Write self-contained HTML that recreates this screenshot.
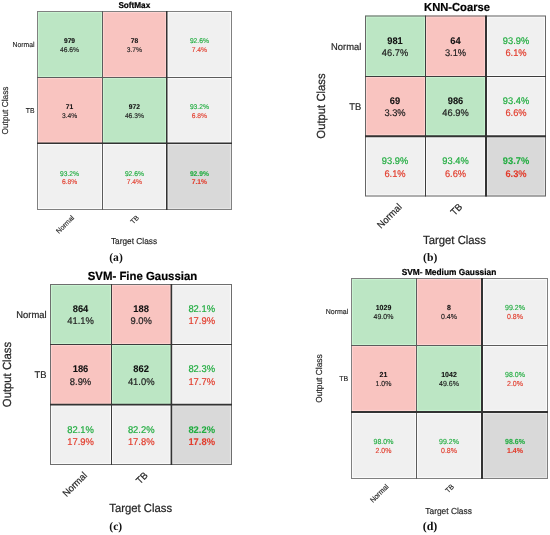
<!DOCTYPE html>
<html lang="en"><head><meta charset="utf-8"><title>Confusion matrices</title>
<style>
html,body{margin:0;padding:0;background:#fff;}
body{width:550px;height:535px;overflow:hidden;}
svg{display:block;text-rendering:geometricPrecision;font-family:"Liberation Sans",sans-serif;}
</style></head><body>
<svg width="550" height="535" viewBox="0 0 550 535">
<rect width="550" height="535" fill="#fff"/>
<g class="panel" id="pa">
<rect x="37" y="11" width="65.00" height="66.00" fill="#bce6c4"/>
<rect x="102" y="11" width="64.75" height="66.00" fill="#f9c4c0"/>
<rect x="166.75" y="11" width="65.25" height="66.00" fill="#f0f0f0"/>
<rect x="37" y="77" width="65.00" height="66.25" fill="#f9c4c0"/>
<rect x="102" y="77" width="64.75" height="66.25" fill="#bce6c4"/>
<rect x="166.75" y="77" width="65.25" height="66.25" fill="#f0f0f0"/>
<rect x="37" y="143.25" width="65.00" height="66.75" fill="#f0f0f0"/>
<rect x="102" y="143.25" width="64.75" height="66.75" fill="#f0f0f0"/>
<rect x="166.75" y="143.25" width="65.25" height="66.75" fill="#d9d9d9"/>
<rect x="38.55" y="12.55" width="62.90" height="63.90" fill="none" stroke="#cbf5d3" stroke-width="1.1" opacity="0.8"/>
<rect x="103.55" y="12.55" width="61.90" height="63.90" fill="none" stroke="#ffd6d2" stroke-width="1.1" opacity="0.8"/>
<rect x="168.05" y="12.55" width="62.40" height="63.90" fill="none" stroke="#fcfcfc" stroke-width="1.1" opacity="0.8"/>
<rect x="38.55" y="78.55" width="62.90" height="63.40" fill="none" stroke="#ffd6d2" stroke-width="1.1" opacity="0.8"/>
<rect x="103.55" y="78.55" width="61.90" height="63.40" fill="none" stroke="#cbf5d3" stroke-width="1.1" opacity="0.8"/>
<rect x="168.05" y="78.55" width="62.40" height="63.40" fill="none" stroke="#fcfcfc" stroke-width="1.1" opacity="0.8"/>
<rect x="38.55" y="144.55" width="62.90" height="63.90" fill="none" stroke="#fcfcfc" stroke-width="1.1" opacity="0.8"/>
<rect x="103.55" y="144.55" width="61.90" height="63.90" fill="none" stroke="#fcfcfc" stroke-width="1.1" opacity="0.8"/>
<rect x="168.05" y="144.55" width="62.40" height="63.90" fill="none" stroke="#e7e7e7" stroke-width="1.1" opacity="0.8"/>
<rect x="37.5" y="11.5" width="194.00" height="198.00" fill="none" stroke="#808080" stroke-width="1"/>
<line x1="102.5" y1="11" x2="102.5" y2="210" stroke="#5c5c5c" stroke-width="1"/>
<line x1="37" y1="77.5" x2="232" y2="77.5" stroke="#5c5c5c" stroke-width="1"/>
<line x1="166.75" y1="11" x2="166.75" y2="210" stroke="#333" stroke-width="1.5"/>
<line x1="37" y1="143.25" x2="232" y2="143.25" stroke="#333" stroke-width="1.5"/>
<text transform="translate(69.50,43.00) scale(1,1.04)" font-size="6.7" fill="#111" text-anchor="middle" font-weight="bold" stroke="#111" stroke-width="0.1">979</text>
<text transform="translate(69.50,51.50) scale(1,1.04)" font-size="6.7" fill="#222" text-anchor="middle" stroke="#222" stroke-width="0.134">46.6%</text>
<text transform="translate(134.38,43.00) scale(1,1.04)" font-size="6.7" fill="#111" text-anchor="middle" font-weight="bold" stroke="#111" stroke-width="0.1">78</text>
<text transform="translate(134.38,51.50) scale(1,1.04)" font-size="6.7" fill="#222" text-anchor="middle" stroke="#222" stroke-width="0.134">3.7%</text>
<text transform="translate(199.38,43.00) scale(1,1.04)" font-size="6.7" fill="#22ad41" text-anchor="middle" stroke="#22ad41" stroke-width="0.134">92.6%</text>
<text transform="translate(199.38,51.50) scale(1,1.04)" font-size="6.7" fill="#e23d2d" text-anchor="middle" stroke="#e23d2d" stroke-width="0.134">7.4%</text>
<text transform="translate(69.50,109.12) scale(1,1.04)" font-size="6.7" fill="#111" text-anchor="middle" font-weight="bold" stroke="#111" stroke-width="0.1">71</text>
<text transform="translate(69.50,117.62) scale(1,1.04)" font-size="6.7" fill="#222" text-anchor="middle" stroke="#222" stroke-width="0.134">3.4%</text>
<text transform="translate(134.38,109.12) scale(1,1.04)" font-size="6.7" fill="#111" text-anchor="middle" font-weight="bold" stroke="#111" stroke-width="0.1">972</text>
<text transform="translate(134.38,117.62) scale(1,1.04)" font-size="6.7" fill="#222" text-anchor="middle" stroke="#222" stroke-width="0.134">46.3%</text>
<text transform="translate(199.38,109.12) scale(1,1.04)" font-size="6.7" fill="#22ad41" text-anchor="middle" stroke="#22ad41" stroke-width="0.134">93.2%</text>
<text transform="translate(199.38,117.62) scale(1,1.04)" font-size="6.7" fill="#e23d2d" text-anchor="middle" stroke="#e23d2d" stroke-width="0.134">6.8%</text>
<text transform="translate(69.50,175.62) scale(1,1.04)" font-size="6.7" fill="#22ad41" text-anchor="middle" stroke="#22ad41" stroke-width="0.134">93.2%</text>
<text transform="translate(69.50,184.12) scale(1,1.04)" font-size="6.7" fill="#e23d2d" text-anchor="middle" stroke="#e23d2d" stroke-width="0.134">6.8%</text>
<text transform="translate(134.38,175.62) scale(1,1.04)" font-size="6.7" fill="#22ad41" text-anchor="middle" stroke="#22ad41" stroke-width="0.134">92.6%</text>
<text transform="translate(134.38,184.12) scale(1,1.04)" font-size="6.7" fill="#e23d2d" text-anchor="middle" stroke="#e23d2d" stroke-width="0.134">7.4%</text>
<text transform="translate(199.38,175.62) scale(1,1.04)" font-size="6.7" fill="#22ad41" text-anchor="middle" font-weight="bold" stroke="#22ad41" stroke-width="0.1">92.9%</text>
<text transform="translate(199.38,184.12) scale(1,1.04)" font-size="6.7" fill="#e23d2d" text-anchor="middle" font-weight="bold" stroke="#e23d2d" stroke-width="0.1">7.1%</text>
<text transform="translate(34.60,46.90) scale(1,1.04)" font-size="6.85" fill="#262626" text-anchor="end" stroke="#262626" stroke-width="0.137">Normal</text>
<text transform="translate(34.60,113.03) scale(1,1.04)" font-size="6.85" fill="#262626" text-anchor="end" stroke="#262626" stroke-width="0.137">TB</text>
<text transform="translate(71.00,214.70) rotate(-45) scale(1,1.04)" font-size="6.85" fill="#262626" text-anchor="end" dy="0.72em" stroke="#262626" stroke-width="0.137">Normal</text>
<text transform="translate(135.88,214.70) rotate(-45) scale(1,1.04)" font-size="6.85" fill="#262626" text-anchor="end" dy="0.72em" stroke="#262626" stroke-width="0.137">TB</text>
<text transform="translate(8.00,110.50) rotate(-90) scale(1,1.04)" font-size="8.3" fill="#262626" text-anchor="middle" stroke="#262626" stroke-width="0.166">Output Class</text>
<text transform="translate(134.00,244.00) scale(1,1.04)" font-size="8.3" fill="#262626" text-anchor="middle" stroke="#262626" stroke-width="0.166">Target Class</text>
<text transform="translate(134.30,8.10) scale(1,1.04)" font-size="8.2" fill="#000" text-anchor="middle" font-weight="bold" stroke="#000" stroke-width="0.2">SoftMax</text>
<text transform="translate(116.00,261.30) scale(1,1.0)" font-size="11.6" fill="#111" text-anchor="middle" font-weight="bold" font-family="'Liberation Serif', serif">(a)</text>
</g>
<g class="panel" id="pb">
<rect x="365" y="15.5" width="60.00" height="60.50" fill="#bce6c4"/>
<rect x="425" y="15.5" width="61.00" height="60.50" fill="#f9c4c0"/>
<rect x="486" y="15.5" width="60.00" height="60.50" fill="#f0f0f0"/>
<rect x="365" y="76" width="60.00" height="60.20" fill="#f9c4c0"/>
<rect x="425" y="76" width="61.00" height="60.20" fill="#bce6c4"/>
<rect x="486" y="76" width="60.00" height="60.20" fill="#f0f0f0"/>
<rect x="365" y="136.2" width="60.00" height="60.30" fill="#f0f0f0"/>
<rect x="425" y="136.2" width="61.00" height="60.30" fill="#f0f0f0"/>
<rect x="486" y="136.2" width="60.00" height="60.30" fill="#d9d9d9"/>
<rect x="366.55" y="17.05" width="57.90" height="58.40" fill="none" stroke="#cbf5d3" stroke-width="1.1" opacity="0.8"/>
<rect x="426.55" y="17.05" width="57.90" height="58.40" fill="none" stroke="#ffd6d2" stroke-width="1.1" opacity="0.8"/>
<rect x="487.55" y="17.05" width="56.90" height="58.40" fill="none" stroke="#fcfcfc" stroke-width="1.1" opacity="0.8"/>
<rect x="366.55" y="77.55" width="57.90" height="57.10" fill="none" stroke="#ffd6d2" stroke-width="1.1" opacity="0.8"/>
<rect x="426.55" y="77.55" width="57.90" height="57.10" fill="none" stroke="#cbf5d3" stroke-width="1.1" opacity="0.8"/>
<rect x="487.55" y="77.55" width="56.90" height="57.10" fill="none" stroke="#fcfcfc" stroke-width="1.1" opacity="0.8"/>
<rect x="366.55" y="137.75" width="57.90" height="57.20" fill="none" stroke="#fcfcfc" stroke-width="1.1" opacity="0.8"/>
<rect x="426.55" y="137.75" width="57.90" height="57.20" fill="none" stroke="#fcfcfc" stroke-width="1.1" opacity="0.8"/>
<rect x="487.55" y="137.75" width="56.90" height="57.20" fill="none" stroke="#e7e7e7" stroke-width="1.1" opacity="0.8"/>
<rect x="365.5" y="16.0" width="180.00" height="180.00" fill="none" stroke="#666" stroke-width="1"/>
<line x1="425.5" y1="15.5" x2="425.5" y2="196.5" stroke="#3c3c3c" stroke-width="1"/>
<line x1="365" y1="76.5" x2="546" y2="76.5" stroke="#3c3c3c" stroke-width="1"/>
<line x1="486" y1="15.5" x2="486" y2="196.5" stroke="#333" stroke-width="2"/>
<line x1="365" y1="136.2" x2="546" y2="136.2" stroke="#333" stroke-width="2"/>
<text transform="translate(395.00,43.75) scale(1,1.04)" font-size="9.3" fill="#111" text-anchor="middle" font-weight="bold" stroke="#111" stroke-width="0.1">981</text>
<text transform="translate(395.00,55.95) scale(1,1.04)" font-size="9.3" fill="#222" text-anchor="middle" stroke="#222" stroke-width="0.186">46.7%</text>
<text transform="translate(455.50,43.75) scale(1,1.04)" font-size="9.3" fill="#111" text-anchor="middle" font-weight="bold" stroke="#111" stroke-width="0.1">64</text>
<text transform="translate(455.50,55.95) scale(1,1.04)" font-size="9.3" fill="#222" text-anchor="middle" stroke="#222" stroke-width="0.186">3.1%</text>
<text transform="translate(516.00,43.75) scale(1,1.04)" font-size="9.3" fill="#22ad41" text-anchor="middle" stroke="#22ad41" stroke-width="0.186">93.9%</text>
<text transform="translate(516.00,55.95) scale(1,1.04)" font-size="9.3" fill="#e23d2d" text-anchor="middle" stroke="#e23d2d" stroke-width="0.186">6.1%</text>
<text transform="translate(395.00,104.10) scale(1,1.04)" font-size="9.3" fill="#111" text-anchor="middle" font-weight="bold" stroke="#111" stroke-width="0.1">69</text>
<text transform="translate(395.00,116.30) scale(1,1.04)" font-size="9.3" fill="#222" text-anchor="middle" stroke="#222" stroke-width="0.186">3.3%</text>
<text transform="translate(455.50,104.10) scale(1,1.04)" font-size="9.3" fill="#111" text-anchor="middle" font-weight="bold" stroke="#111" stroke-width="0.1">986</text>
<text transform="translate(455.50,116.30) scale(1,1.04)" font-size="9.3" fill="#222" text-anchor="middle" stroke="#222" stroke-width="0.186">46.9%</text>
<text transform="translate(516.00,104.10) scale(1,1.04)" font-size="9.3" fill="#22ad41" text-anchor="middle" stroke="#22ad41" stroke-width="0.186">93.4%</text>
<text transform="translate(516.00,116.30) scale(1,1.04)" font-size="9.3" fill="#e23d2d" text-anchor="middle" stroke="#e23d2d" stroke-width="0.186">6.6%</text>
<text transform="translate(395.00,164.35) scale(1,1.04)" font-size="9.3" fill="#22ad41" text-anchor="middle" stroke="#22ad41" stroke-width="0.186">93.9%</text>
<text transform="translate(395.00,176.55) scale(1,1.04)" font-size="9.3" fill="#e23d2d" text-anchor="middle" stroke="#e23d2d" stroke-width="0.186">6.1%</text>
<text transform="translate(455.50,164.35) scale(1,1.04)" font-size="9.3" fill="#22ad41" text-anchor="middle" stroke="#22ad41" stroke-width="0.186">93.4%</text>
<text transform="translate(455.50,176.55) scale(1,1.04)" font-size="9.3" fill="#e23d2d" text-anchor="middle" stroke="#e23d2d" stroke-width="0.186">6.6%</text>
<text transform="translate(516.00,164.35) scale(1,1.04)" font-size="9.3" fill="#22ad41" text-anchor="middle" font-weight="bold" stroke="#22ad41" stroke-width="0.1">93.7%</text>
<text transform="translate(516.00,176.55) scale(1,1.04)" font-size="9.3" fill="#e23d2d" text-anchor="middle" font-weight="bold" stroke="#e23d2d" stroke-width="0.1">6.3%</text>
<text transform="translate(361.30,49.55) scale(1,1.04)" font-size="9.4" fill="#262626" text-anchor="end" stroke="#262626" stroke-width="0.188">Normal</text>
<text transform="translate(361.30,109.90) scale(1,1.04)" font-size="9.4" fill="#262626" text-anchor="end" stroke="#262626" stroke-width="0.188">TB</text>
<text transform="translate(397.50,202.60) rotate(-45) scale(1,1.04)" font-size="9.4" fill="#262626" text-anchor="end" dy="0.72em" stroke="#262626" stroke-width="0.188">Normal</text>
<text transform="translate(458.00,202.60) rotate(-45) scale(1,1.04)" font-size="9.4" fill="#262626" text-anchor="end" dy="0.72em" stroke="#262626" stroke-width="0.188">TB</text>
<text transform="translate(325.30,106.00) rotate(-90) scale(1,1.04)" font-size="11.3" fill="#262626" text-anchor="middle" stroke="#262626" stroke-width="0.226">Output Class</text>
<text transform="translate(454.50,244.00) scale(1,1.04)" font-size="11.3" fill="#262626" text-anchor="middle" stroke="#262626" stroke-width="0.226">Target Class</text>
<text transform="translate(457.00,11.30) scale(1,1.04)" font-size="11.2" fill="#000" text-anchor="middle" font-weight="bold" stroke="#000" stroke-width="0.2">KNN-Coarse</text>
<text transform="translate(430.20,261.30) scale(1,1.0)" font-size="11.6" fill="#111" text-anchor="middle" font-weight="bold" font-family="'Liberation Serif', serif">(b)</text>
</g>
<g class="panel" id="pc">
<rect x="50" y="284" width="61.00" height="60.00" fill="#bce6c4"/>
<rect x="111" y="284" width="60.40" height="60.00" fill="#f9c4c0"/>
<rect x="171.4" y="284" width="60.60" height="60.00" fill="#f0f0f0"/>
<rect x="50" y="344" width="61.00" height="60.60" fill="#f9c4c0"/>
<rect x="111" y="344" width="60.40" height="60.60" fill="#bce6c4"/>
<rect x="171.4" y="344" width="60.60" height="60.60" fill="#f0f0f0"/>
<rect x="50" y="404.6" width="61.00" height="60.40" fill="#f0f0f0"/>
<rect x="111" y="404.6" width="60.40" height="60.40" fill="#f0f0f0"/>
<rect x="171.4" y="404.6" width="60.60" height="60.40" fill="#d9d9d9"/>
<rect x="51.55" y="285.55" width="58.90" height="57.90" fill="none" stroke="#cbf5d3" stroke-width="1.1" opacity="0.8"/>
<rect x="112.55" y="285.55" width="57.50" height="57.90" fill="none" stroke="#ffd6d2" stroke-width="1.1" opacity="0.8"/>
<rect x="172.75" y="285.55" width="57.70" height="57.90" fill="none" stroke="#fcfcfc" stroke-width="1.1" opacity="0.8"/>
<rect x="51.55" y="345.55" width="58.90" height="57.70" fill="none" stroke="#ffd6d2" stroke-width="1.1" opacity="0.8"/>
<rect x="112.55" y="345.55" width="57.50" height="57.70" fill="none" stroke="#cbf5d3" stroke-width="1.1" opacity="0.8"/>
<rect x="172.75" y="345.55" width="57.70" height="57.70" fill="none" stroke="#fcfcfc" stroke-width="1.1" opacity="0.8"/>
<rect x="51.55" y="405.95" width="58.90" height="57.50" fill="none" stroke="#fcfcfc" stroke-width="1.1" opacity="0.8"/>
<rect x="112.55" y="405.95" width="57.50" height="57.50" fill="none" stroke="#fcfcfc" stroke-width="1.1" opacity="0.8"/>
<rect x="172.75" y="405.95" width="57.70" height="57.50" fill="none" stroke="#e7e7e7" stroke-width="1.1" opacity="0.8"/>
<rect x="50.5" y="284.5" width="181.00" height="180.00" fill="none" stroke="#6e6e6e" stroke-width="1"/>
<line x1="111.5" y1="284" x2="111.5" y2="465" stroke="#3c3c3c" stroke-width="1"/>
<line x1="50" y1="344.5" x2="232" y2="344.5" stroke="#3c3c3c" stroke-width="1"/>
<line x1="171.4" y1="284" x2="171.4" y2="465" stroke="#333" stroke-width="1.6"/>
<line x1="50" y1="404.6" x2="232" y2="404.6" stroke="#333" stroke-width="1.6"/>
<text transform="translate(80.50,311.80) scale(1,1.04)" font-size="9.4" fill="#111" text-anchor="middle" font-weight="bold" stroke="#111" stroke-width="0.1">864</text>
<text transform="translate(80.50,324.40) scale(1,1.04)" font-size="9.4" fill="#222" text-anchor="middle" stroke="#222" stroke-width="0.188">41.1%</text>
<text transform="translate(141.20,311.80) scale(1,1.04)" font-size="9.4" fill="#111" text-anchor="middle" font-weight="bold" stroke="#111" stroke-width="0.1">188</text>
<text transform="translate(141.20,324.40) scale(1,1.04)" font-size="9.4" fill="#222" text-anchor="middle" stroke="#222" stroke-width="0.188">9.0%</text>
<text transform="translate(201.70,311.80) scale(1,1.04)" font-size="9.4" fill="#22ad41" text-anchor="middle" stroke="#22ad41" stroke-width="0.188">82.1%</text>
<text transform="translate(201.70,324.40) scale(1,1.04)" font-size="9.4" fill="#e23d2d" text-anchor="middle" stroke="#e23d2d" stroke-width="0.188">17.9%</text>
<text transform="translate(80.50,372.10) scale(1,1.04)" font-size="9.4" fill="#111" text-anchor="middle" font-weight="bold" stroke="#111" stroke-width="0.1">186</text>
<text transform="translate(80.50,384.70) scale(1,1.04)" font-size="9.4" fill="#222" text-anchor="middle" stroke="#222" stroke-width="0.188">8.9%</text>
<text transform="translate(141.20,372.10) scale(1,1.04)" font-size="9.4" fill="#111" text-anchor="middle" font-weight="bold" stroke="#111" stroke-width="0.1">862</text>
<text transform="translate(141.20,384.70) scale(1,1.04)" font-size="9.4" fill="#222" text-anchor="middle" stroke="#222" stroke-width="0.188">41.0%</text>
<text transform="translate(201.70,372.10) scale(1,1.04)" font-size="9.4" fill="#22ad41" text-anchor="middle" stroke="#22ad41" stroke-width="0.188">82.3%</text>
<text transform="translate(201.70,384.70) scale(1,1.04)" font-size="9.4" fill="#e23d2d" text-anchor="middle" stroke="#e23d2d" stroke-width="0.188">17.7%</text>
<text transform="translate(80.50,432.60) scale(1,1.04)" font-size="9.4" fill="#22ad41" text-anchor="middle" stroke="#22ad41" stroke-width="0.188">82.1%</text>
<text transform="translate(80.50,445.20) scale(1,1.04)" font-size="9.4" fill="#e23d2d" text-anchor="middle" stroke="#e23d2d" stroke-width="0.188">17.9%</text>
<text transform="translate(141.20,432.60) scale(1,1.04)" font-size="9.4" fill="#22ad41" text-anchor="middle" stroke="#22ad41" stroke-width="0.188">82.2%</text>
<text transform="translate(141.20,445.20) scale(1,1.04)" font-size="9.4" fill="#e23d2d" text-anchor="middle" stroke="#e23d2d" stroke-width="0.188">17.8%</text>
<text transform="translate(201.70,432.60) scale(1,1.04)" font-size="9.4" fill="#22ad41" text-anchor="middle" font-weight="bold" stroke="#22ad41" stroke-width="0.1">82.2%</text>
<text transform="translate(201.70,445.20) scale(1,1.04)" font-size="9.4" fill="#e23d2d" text-anchor="middle" font-weight="bold" stroke="#e23d2d" stroke-width="0.1">17.8%</text>
<text transform="translate(46.50,318.00) scale(1,1.04)" font-size="9.4" fill="#262626" text-anchor="end" stroke="#262626" stroke-width="0.188">Normal</text>
<text transform="translate(46.50,378.30) scale(1,1.04)" font-size="9.4" fill="#262626" text-anchor="end" stroke="#262626" stroke-width="0.188">TB</text>
<text transform="translate(82.80,471.00) rotate(-45) scale(1,1.04)" font-size="9.4" fill="#262626" text-anchor="end" dy="0.72em" stroke="#262626" stroke-width="0.188">Normal</text>
<text transform="translate(143.50,471.00) rotate(-45) scale(1,1.04)" font-size="9.4" fill="#262626" text-anchor="end" dy="0.72em" stroke="#262626" stroke-width="0.188">TB</text>
<text transform="translate(10.50,374.50) rotate(-90) scale(1,1.04)" font-size="11.3" fill="#262626" text-anchor="middle" stroke="#262626" stroke-width="0.226">Output Class</text>
<text transform="translate(140.70,511.80) scale(1,1.04)" font-size="11.3" fill="#262626" text-anchor="middle" stroke="#262626" stroke-width="0.226">Target Class</text>
<text transform="translate(142.50,279.60) scale(1,1.04)" font-size="11.4" fill="#000" text-anchor="middle" font-weight="bold" stroke="#000" stroke-width="0.2">SVM- Fine Gaussian</text>
<text transform="translate(115.80,530.10) scale(1,1.0)" font-size="11.6" fill="#111" text-anchor="middle" font-weight="bold" font-family="'Liberation Serif', serif">(c)</text>
</g>
<g class="panel" id="pd">
<rect x="351" y="278" width="65.00" height="67.00" fill="#bce6c4"/>
<rect x="416" y="278" width="66.00" height="67.00" fill="#f9c4c0"/>
<rect x="482" y="278" width="66.00" height="67.00" fill="#f0f0f0"/>
<rect x="351" y="345" width="65.00" height="67.00" fill="#f9c4c0"/>
<rect x="416" y="345" width="66.00" height="67.00" fill="#bce6c4"/>
<rect x="482" y="345" width="66.00" height="67.00" fill="#f0f0f0"/>
<rect x="351" y="412" width="65.00" height="67.00" fill="#f0f0f0"/>
<rect x="416" y="412" width="66.00" height="67.00" fill="#f0f0f0"/>
<rect x="482" y="412" width="66.00" height="67.00" fill="#d9d9d9"/>
<rect x="352.55" y="279.55" width="62.90" height="64.90" fill="none" stroke="#cbf5d3" stroke-width="1.1" opacity="0.8"/>
<rect x="417.55" y="279.55" width="62.90" height="64.90" fill="none" stroke="#ffd6d2" stroke-width="1.1" opacity="0.8"/>
<rect x="483.55" y="279.55" width="62.90" height="64.90" fill="none" stroke="#fcfcfc" stroke-width="1.1" opacity="0.8"/>
<rect x="352.55" y="346.55" width="62.90" height="63.90" fill="none" stroke="#ffd6d2" stroke-width="1.1" opacity="0.8"/>
<rect x="417.55" y="346.55" width="62.90" height="63.90" fill="none" stroke="#cbf5d3" stroke-width="1.1" opacity="0.8"/>
<rect x="483.55" y="346.55" width="62.90" height="63.90" fill="none" stroke="#fcfcfc" stroke-width="1.1" opacity="0.8"/>
<rect x="352.55" y="413.55" width="62.90" height="63.90" fill="none" stroke="#fcfcfc" stroke-width="1.1" opacity="0.8"/>
<rect x="417.55" y="413.55" width="62.90" height="63.90" fill="none" stroke="#fcfcfc" stroke-width="1.1" opacity="0.8"/>
<rect x="483.55" y="413.55" width="62.90" height="63.90" fill="none" stroke="#e7e7e7" stroke-width="1.1" opacity="0.8"/>
<rect x="351.5" y="278.5" width="196.00" height="200.00" fill="none" stroke="#808080" stroke-width="1"/>
<line x1="416.5" y1="278" x2="416.5" y2="479" stroke="#5c5c5c" stroke-width="1"/>
<line x1="351" y1="345.5" x2="548" y2="345.5" stroke="#5c5c5c" stroke-width="1"/>
<line x1="482" y1="278" x2="482" y2="479" stroke="#333" stroke-width="2"/>
<line x1="351" y1="412" x2="548" y2="412" stroke="#333" stroke-width="2"/>
<text transform="translate(383.50,310.20) scale(1,1.04)" font-size="7.0" fill="#111" text-anchor="middle" font-weight="bold" stroke="#111" stroke-width="0.1">1029</text>
<text transform="translate(383.50,319.10) scale(1,1.04)" font-size="7.0" fill="#222" text-anchor="middle" stroke="#222" stroke-width="0.14">49.0%</text>
<text transform="translate(449.00,310.20) scale(1,1.04)" font-size="7.0" fill="#111" text-anchor="middle" font-weight="bold" stroke="#111" stroke-width="0.1">8</text>
<text transform="translate(449.00,319.10) scale(1,1.04)" font-size="7.0" fill="#222" text-anchor="middle" stroke="#222" stroke-width="0.14">0.4%</text>
<text transform="translate(515.00,310.20) scale(1,1.04)" font-size="7.0" fill="#22ad41" text-anchor="middle" stroke="#22ad41" stroke-width="0.14">99.2%</text>
<text transform="translate(515.00,319.10) scale(1,1.04)" font-size="7.0" fill="#e23d2d" text-anchor="middle" stroke="#e23d2d" stroke-width="0.14">0.8%</text>
<text transform="translate(383.50,377.20) scale(1,1.04)" font-size="7.0" fill="#111" text-anchor="middle" font-weight="bold" stroke="#111" stroke-width="0.1">21</text>
<text transform="translate(383.50,386.10) scale(1,1.04)" font-size="7.0" fill="#222" text-anchor="middle" stroke="#222" stroke-width="0.14">1.0%</text>
<text transform="translate(449.00,377.20) scale(1,1.04)" font-size="7.0" fill="#111" text-anchor="middle" font-weight="bold" stroke="#111" stroke-width="0.1">1042</text>
<text transform="translate(449.00,386.10) scale(1,1.04)" font-size="7.0" fill="#222" text-anchor="middle" stroke="#222" stroke-width="0.14">49.6%</text>
<text transform="translate(515.00,377.20) scale(1,1.04)" font-size="7.0" fill="#22ad41" text-anchor="middle" stroke="#22ad41" stroke-width="0.14">98.0%</text>
<text transform="translate(515.00,386.10) scale(1,1.04)" font-size="7.0" fill="#e23d2d" text-anchor="middle" stroke="#e23d2d" stroke-width="0.14">2.0%</text>
<text transform="translate(383.50,444.20) scale(1,1.04)" font-size="7.0" fill="#22ad41" text-anchor="middle" stroke="#22ad41" stroke-width="0.14">98.0%</text>
<text transform="translate(383.50,453.10) scale(1,1.04)" font-size="7.0" fill="#e23d2d" text-anchor="middle" stroke="#e23d2d" stroke-width="0.14">2.0%</text>
<text transform="translate(449.00,444.20) scale(1,1.04)" font-size="7.0" fill="#22ad41" text-anchor="middle" stroke="#22ad41" stroke-width="0.14">99.2%</text>
<text transform="translate(449.00,453.10) scale(1,1.04)" font-size="7.0" fill="#e23d2d" text-anchor="middle" stroke="#e23d2d" stroke-width="0.14">0.8%</text>
<text transform="translate(515.00,444.20) scale(1,1.04)" font-size="7.0" fill="#22ad41" text-anchor="middle" font-weight="bold" stroke="#22ad41" stroke-width="0.1">98.6%</text>
<text transform="translate(515.00,453.10) scale(1,1.04)" font-size="7.0" fill="#e23d2d" text-anchor="middle" font-weight="bold" stroke="#e23d2d" stroke-width="0.1">1.4%</text>
<text transform="translate(348.30,314.10) scale(1,1.04)" font-size="7.0" fill="#262626" text-anchor="end" stroke="#262626" stroke-width="0.14">Normal</text>
<text transform="translate(348.30,381.10) scale(1,1.04)" font-size="7.0" fill="#262626" text-anchor="end" stroke="#262626" stroke-width="0.14">TB</text>
<text transform="translate(385.30,483.40) rotate(-45) scale(1,1.04)" font-size="7.0" fill="#262626" text-anchor="end" dy="0.72em" stroke="#262626" stroke-width="0.14">Normal</text>
<text transform="translate(450.80,483.40) rotate(-45) scale(1,1.04)" font-size="7.0" fill="#262626" text-anchor="end" dy="0.72em" stroke="#262626" stroke-width="0.14">TB</text>
<text transform="translate(322.40,378.50) rotate(-90) scale(1,1.04)" font-size="8.4" fill="#262626" text-anchor="middle" stroke="#262626" stroke-width="0.168">Output Class</text>
<text transform="translate(448.60,513.70) scale(1,1.04)" font-size="8.4" fill="#262626" text-anchor="middle" stroke="#262626" stroke-width="0.168">Target Class</text>
<text transform="translate(449.00,275.10) scale(1,1.04)" font-size="8.35" fill="#000" text-anchor="middle" font-weight="bold" stroke="#000" stroke-width="0.2">SVM- Medium Gaussian</text>
<text transform="translate(430.00,530.20) scale(1,1.0)" font-size="12.0" fill="#111" text-anchor="middle" font-weight="bold" font-family="'Liberation Serif', serif">(d)</text>
</g>
</svg>
</body></html>
